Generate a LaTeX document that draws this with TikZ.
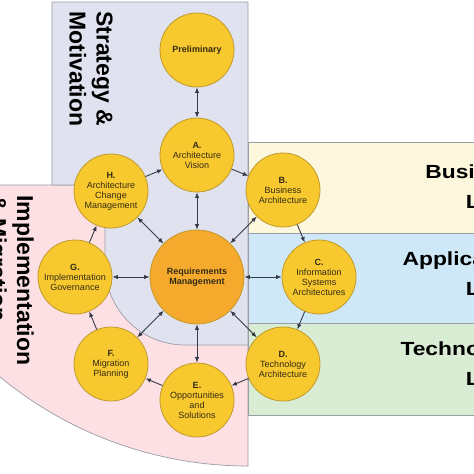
\documentclass[tikz,border=0pt]{standalone}
\usepackage{fontspec}
\setmainfont{Liberation Sans}
\newfontfamily\bandfont[FakeStretch=1.2]{Liberation Sans}
\usetikzlibrary{arrows.meta}
\definecolor{stratbg}{HTML}{E1E2EF}
\definecolor{pinkbg}{HTML}{FCE0E4}
\definecolor{busbg}{HTML}{FDF8DD}
\definecolor{appbg}{HTML}{CFE8F7}
\definecolor{techbg}{HTML}{D9EDD4}
\definecolor{edgegray}{HTML}{9A9CA6}
\definecolor{phasefill}{HTML}{F8C82F}
\definecolor{reqfill}{HTML}{F5AA2E}
\definecolor{ringline}{HTML}{C09A2A}
\definecolor{textdark}{HTML}{332C14}
\definecolor{flowcol}{HTML}{353C48}
\begin{document}
\begin{tikzpicture}[x=1pt,y=-1pt,
  phase/.style={circle, draw=ringline, fill=phasefill, line width=0.8pt,
    minimum size=74pt, inner sep=0pt, align=center, text=textdark,
    font=\fontsize{9}{10}\selectfont},
  reqnode/.style={phase, fill=reqfill, minimum size=94pt},
  flow/.style={draw=flowcol, line width=0.9pt, -{Latex[length=5.5pt,width=4.5pt]}},
  both/.style={draw=flowcol, line width=0.9pt, {Latex[length=5.5pt,width=4.5pt]}-{Latex[length=5.5pt,width=4.5pt]}},
  bandtext/.style={align=right, anchor=east, inner sep=0pt, text=black,
    font=\bandfont\fontsize{19}{30}\selectfont\bfseries},
  sidetext/.style={align=left, rotate=-90, anchor=north west, inner sep=0pt,
    text=black, font=\fontsize{23}{27}\selectfont\bfseries}
]
\useasboundingbox (0,0) rectangle (474,474);
\clip (0,0) rectangle (474,474);
\fill[white] (0,0) rectangle (474,474);
% Implementation & Migration area
\filldraw[fill=pinkbg, draw=edgegray, line width=0.7pt]
  (-5,185) -- (248,185) -- (248,466) arc[start angle=90, end angle=129.5, radius=390] -- (-5,377) -- cycle;
% Strategy & Motivation area
\filldraw[fill=stratbg, draw=edgegray, line width=0.7pt]
  (52,2) -- (248,2) -- (248,345) -- (185,345) arc[start angle=90, end angle=180, radius=80] -- (105,185) -- (52,185) -- cycle;
% layer bands
\filldraw[fill=busbg, draw=edgegray, line width=0.7pt] (248,142) rectangle (480,233);
\filldraw[fill=appbg, draw=edgegray, line width=0.7pt] (248,233) rectangle (480,323);
\filldraw[fill=techbg, draw=edgegray, line width=0.7pt] (248,323) rectangle (480,415);
\node[bandtext] (bus) at (527,189) {Business\\Layer};
\node[bandtext] (app) at (527,276) {Application\\Layer};
\node[bandtext] (tech) at (527,366) {Technology\\Layer};
\node[sidetext] (sm) at (113,11) {Strategy \&\\Motivation};
\node[sidetext] (im) at (34,195) {Implementation\\\& Migration};
% phases
\node[phase] (P) at (197,50) {\textbf{Preliminary}};
\node[phase] (A) at (197,155) {\textbf{A.}\\Architecture\\Vision};
\node[phase] (B) at (283,190) {\textbf{B.}\\Business\\Architecture};
\node[phase] (C) at (319,277) {\textbf{C.}\\Information\\Systems\\Architectures};
\node[phase] (D) at (283,364) {\textbf{D.}\\Technology\\Architecture};
\node[phase] (E) at (197,400) {\textbf{E.}\\Opportunities\\and\\Solutions};
\node[phase] (F) at (111,364) {\textbf{F.}\\Migration\\Planning};
\node[phase] (G) at (75,277) {\textbf{G.}\\Implementation\\Governance};
\node[phase] (H) at (111,191) {\textbf{H.}\\Architecture\\Change\\Management};
\node[reqnode] (R) at (197,277) {\textbf{Requirements}\\\textbf{Management}};
% connectors
\draw[both] (P) -- (A);
\draw[flow] (A) -- (B);
\draw[flow] (B) -- (C);
\draw[flow] (C) -- (D);
\draw[flow] (D) -- (E);
\draw[flow] (E) -- (F);
\draw[flow] (F) -- (G);
\draw[flow] (G) -- (H);
\draw[flow] (H) -- (A);
\foreach \n in {A,B,C,D,E,F,G,H} { \draw[both] (R) -- (\n); }
\end{tikzpicture}
\end{document}
